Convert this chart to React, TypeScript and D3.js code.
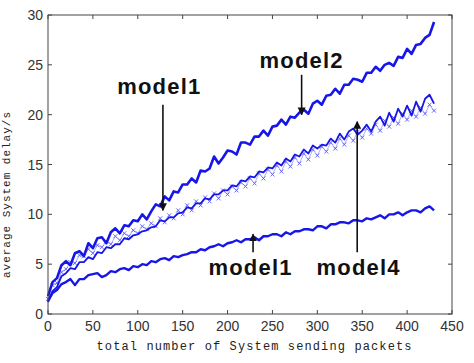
import * as d3 from "d3";

// packets axis, sampled every 5 packets
const packets = d3.range(0, 431, 5);

const model2 = [1.8, 3.2, 3.6, 4.9, 5.3, 4.9, 6.1, 6.3, 5.8, 7.1, 6.6, 7.6, 7.7, 7.1, 8.2, 8.6, 8.1, 8.9, 8.8, 9.4,
  9.3, 10.0, 9.5, 10.3, 11.0, 10.8, 11.8, 11.4, 12.3, 12.2, 13.0, 13.0, 13.6, 13.2, 14.4, 14.3, 14.6, 15.8, 15.1, 15.7,
  16.4, 16.3, 16.0, 17.2, 17.2, 17.0, 17.8, 17.8, 18.4, 17.9, 18.8, 18.9, 19.5, 19.0, 19.8, 19.7, 20.2, 20.5, 20.1, 21.1,
  21.4, 21.0, 21.9, 22.0, 22.6, 22.1, 23.0, 23.0, 23.6, 23.5, 23.3, 24.2, 24.2, 24.8, 24.4, 25.0, 25.2, 24.9, 25.8, 25.7,
  26.6, 26.1, 27.0, 27.1, 27.7, 28.0, 29.3];

const model1Upper = [1.2, 2.3, 2.7, 3.8, 4.1, 4.6, 4.5, 5.2, 5.2, 5.7, 5.5, 6.2, 6.1, 6.7, 6.6, 7.0, 7.0, 7.6, 7.5, 7.9,
  8.0, 8.3, 8.4, 8.7, 8.8, 9.4, 9.3, 9.7, 9.7, 10.1, 10.2, 10.7, 10.6, 11.1, 11.1, 11.6, 11.5, 12.0, 12.0, 12.4,
  12.4, 12.9, 12.8, 13.4, 13.3, 13.8, 13.7, 14.3, 14.2, 14.7, 14.6, 15.2, 14.9, 15.6, 15.3, 16.0, 15.8, 16.5, 16.1, 16.9,
  16.6, 17.0, 16.9, 17.6, 17.2, 18.1, 17.5, 18.3, 18.6, 18.0, 18.4, 19.0, 18.3, 19.3, 19.8, 18.9, 20.2, 19.3, 20.6, 19.8,
  20.9, 19.9, 21.3, 20.3, 21.6, 22.0, 21.1];

const model4 = [1.5, 2.9, 3.1, 4.2, 4.5, 5.2, 5.1, 5.9, 5.8, 6.5, 6.1, 6.9, 6.7, 7.3, 7.0, 7.8, 7.4, 8.1, 7.8, 8.4,
  8.1, 8.8, 8.5, 9.1, 8.8, 9.6, 9.2, 9.9, 9.6, 10.4, 10.0, 10.9, 10.4, 11.3, 10.9, 11.7, 11.3, 12.1, 11.6, 12.4,
  12.0, 12.8, 12.4, 13.2, 12.8, 13.6, 13.1, 14.1, 13.6, 14.5, 14.0, 14.9, 14.3, 15.3, 14.8, 15.7, 15.1, 16.1, 15.5, 16.5,
  15.9, 16.8, 16.3, 17.2, 16.6, 17.6, 17.0, 17.9, 17.4, 18.3, 17.7, 18.6, 18.1, 19.0, 18.4, 19.4, 18.8, 19.7, 19.1, 20.1,
  19.5, 20.4, 19.8, 20.7, 20.1, 21.0, 20.4];

const model1Lower = [1.3, 2.1, 2.4, 3.0, 3.2, 3.5, 2.9, 3.5, 3.5, 3.9, 4.0, 4.1, 3.7, 3.9, 4.3, 4.2, 4.5, 4.6, 4.4, 4.8,
  4.7, 5.0, 4.9, 5.3, 5.2, 5.5, 5.6, 5.4, 5.8, 5.7, 5.9, 6.0, 6.2, 6.2, 6.5, 6.4, 6.7, 6.8, 7.0, 6.8,
  7.1, 7.2, 7.4, 7.2, 7.5, 7.5, 7.7, 7.4, 7.8, 7.8, 8.0, 8.0, 7.8, 8.2, 8.0, 8.3, 8.3, 8.5, 8.5, 8.4,
  8.8, 8.8, 8.6, 9.0, 9.0, 9.2, 9.2, 9.1, 9.4, 9.4, 9.3, 9.6, 9.5, 9.7, 9.9, 9.6, 10.0, 10.0, 10.2, 9.9,
  10.2, 10.4, 10.4, 10.2, 10.6, 10.8, 10.4];

const xTicks = [0, 50, 100, 150, 200, 250, 300, 350, 400, 450];
const yTicks = [0, 5, 10, 15, 20, 25, 30];

// annotation labels and arrows in data units
const labels = [
  { text: "model1", x: 124, y: 22.1 },
  { text: "model2", x: 282.5, y: 24.7 },
  { text: "model1", x: 225.6, y: 3.9 },
  { text: "model4", x: 346, y: 3.9 },
];
const arrows = [
  { x: 128, from: 21.0, to: 10.4 },
  { x: 282.5, from: 24.0, to: 20.0 },
  { x: 228.4, from: 6.2, to: 8.0 },
  { x: 344.4, from: 6.2, to: 19.3 },
];

const W = 474;
const H = 363;
const margin = { top: 15, right: 22, bottom: 49, left: 48 };
const BLUE = "#1616e8";

export default function App() {
  const x = d3.scaleLinear().domain([0, 450]).range([margin.left, W - margin.right]);
  const y = d3.scaleLinear().domain([0, 30]).range([H - margin.bottom, margin.top]);
  const line = d3
    .line<number>()
    .x((_, i) => x(packets[i]))
    .y((d) => y(d));

  const left = x(0);
  const right = x(450);
  const top = y(30);
  const bottom = y(0);
  const tickFont = "'Liberation Sans', Arial, sans-serif";

  return (
    <svg
      width={W}
      height={H}
      style={{ position: "absolute", left: 0, top: 0, background: "#fff" }}
    >
      <defs>
        <marker id="ah" viewBox="0 0 10 10" refX="9" refY="5" markerWidth="5" markerHeight="6" orient="auto">
          <path d="M0,0 L10,5 L0,10 Z" fill="#111" />
        </marker>
      </defs>

      {/* data */}
      <path d={line(model1Lower)!} fill="none" stroke={BLUE} strokeWidth={2.4} strokeLinejoin="round" />
      <path d={line(model4)!} fill="none" stroke="#6a6aff" strokeWidth={0.8} opacity={0.7} />
      {model4.map((v, i) => {
        const cx = x(packets[i]);
        const cy = y(v);
        return (
          <path
            key={i}
            d={`M${cx - 2},${cy - 2}L${cx + 2},${cy + 2}M${cx - 2},${cy + 2}L${cx + 2},${cy - 2}`}
            stroke="#5a5aff"
            strokeWidth={0.9}
          />
        );
      })}
      <path d={line(model1Upper)!} fill="none" stroke={BLUE} strokeWidth={1.8} strokeLinejoin="round" />
      <path d={line(model2)!} fill="none" stroke={BLUE} strokeWidth={2.6} strokeLinejoin="round" />

      {/* box and ticks */}
      <rect x={left} y={top} width={right - left} height={bottom - top} fill="none" stroke="#444" strokeWidth={1} />
      {xTicks.map((t) => (
        <g key={"x" + t}>
          <line x1={x(t)} x2={x(t)} y1={bottom} y2={bottom - 4} stroke="#444" />
          <line x1={x(t)} x2={x(t)} y1={top} y2={top + 4} stroke="#444" />
          <text x={x(t)} y={bottom + 17} textAnchor="middle" fontFamily={tickFont} fontSize={14} fill="#333">
            {t}
          </text>
        </g>
      ))}
      {yTicks.map((t) => (
        <g key={"y" + t}>
          <line x1={left} x2={left + 4} y1={y(t)} y2={y(t)} stroke="#444" />
          <line x1={right} x2={right - 4} y1={y(t)} y2={y(t)} stroke="#444" />
          <text x={left - 5} y={y(t) + 5} textAnchor="end" fontFamily={tickFont} fontSize={14} fill="#333">
            {t}
          </text>
        </g>
      ))}

      {/* axis titles */}
      <text
        x={254}
        y={350}
        textAnchor="middle"
        fontFamily="'Liberation Mono', 'DejaVu Sans Mono', monospace"
        fontSize={12}
        textLength={315}
        lengthAdjust="spacing"
        fill="#222"
      >
        total number of System sending packets
      </text>
      <text
        transform="translate(10,195) rotate(-90)"
        textAnchor="middle"
        fontFamily="'Liberation Mono', 'DejaVu Sans Mono', monospace"
        fontSize={11}
        textLength={166}
        lengthAdjust="spacing"
        fill="#222"
      >
        average System delay/s
      </text>

      {/* annotations */}
      {arrows.map((a, i) => (
        <line
          key={"a" + i}
          x1={x(a.x)}
          x2={x(a.x)}
          y1={y(a.from)}
          y2={y(a.to)}
          stroke="#111"
          strokeWidth={1.6}
          markerEnd="url(#ah)"
        />
      ))}
      {labels.map((l, i) => (
        <text
          key={"l" + i}
          x={x(l.x)}
          y={y(l.y)}
          textAnchor="middle"
          fontFamily="'Liberation Sans', Arial, sans-serif"
          fontWeight="bold"
          fontSize={22}
          letterSpacing={1.2}
          fill="#111"
        >
          {l.text}
        </text>
      ))}
    </svg>
  );
}
